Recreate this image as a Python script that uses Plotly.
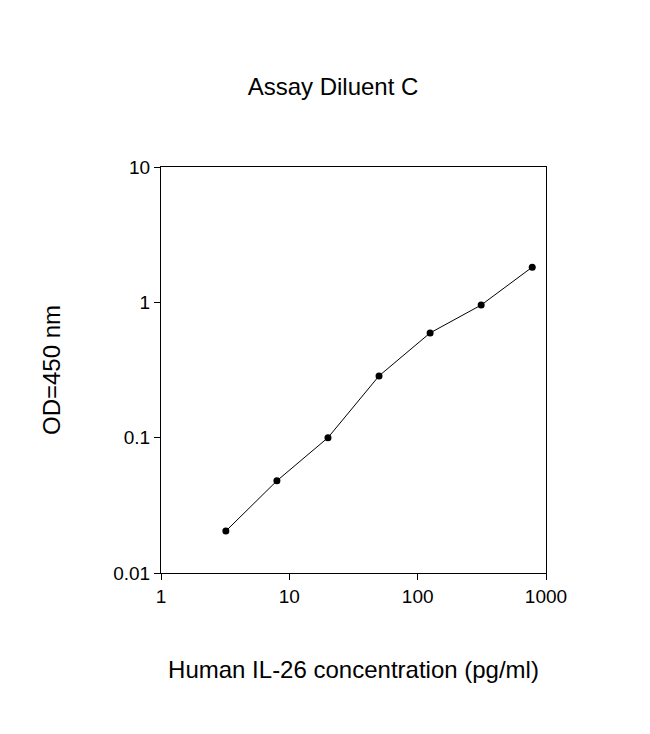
import plotly.graph_objects as go

conc = [3.2, 8, 20, 50, 125, 312.5, 781.25]
od = [0.0204, 0.048, 0.1, 0.286, 0.594, 0.955, 1.82]
xticks = [1, 10, 100, 1000]
yticks = [0.01, 0.1, 1, 10]

fig = go.Figure(go.Scatter(x=conc, y=od, mode="lines+markers",
    line=dict(color="black", width=1), marker=dict(color="black", size=7, symbol="circle")))
ax = dict(type="log", showline=True, linecolor="black", linewidth=1, mirror=True,
          ticks="outside", ticklen=6, tickcolor="black", showgrid=False, zeroline=False,
          tickfont=dict(size=19, color="black"))
fig.update_layout(
    width=650, height=734, plot_bgcolor="white", paper_bgcolor="white",
    font=dict(family="Liberation Sans, Arial", color="black"),
    margin=dict(l=153, r=112, t=159, b=169), showlegend=False,
    title=dict(text="Assay Diluent C", x=0.5, xanchor="center", y=0.893, yanchor="middle",
               font=dict(size=24)),
    xaxis=dict(ax, range=[0, 3], tickvals=xticks, ticktext=[str(v) for v in xticks],
               title=dict(text="Human IL-26 concentration (pg/ml)", font=dict(size=24), standoff=55)),
    yaxis=dict(ax, range=[-2, 1], tickvals=yticks, ticktext=["0.01", "0.1", "1", "10"],
               title=dict(text="OD=450 nm", font=dict(size=24), standoff=45)),
)
fig.write_html("out.html")
